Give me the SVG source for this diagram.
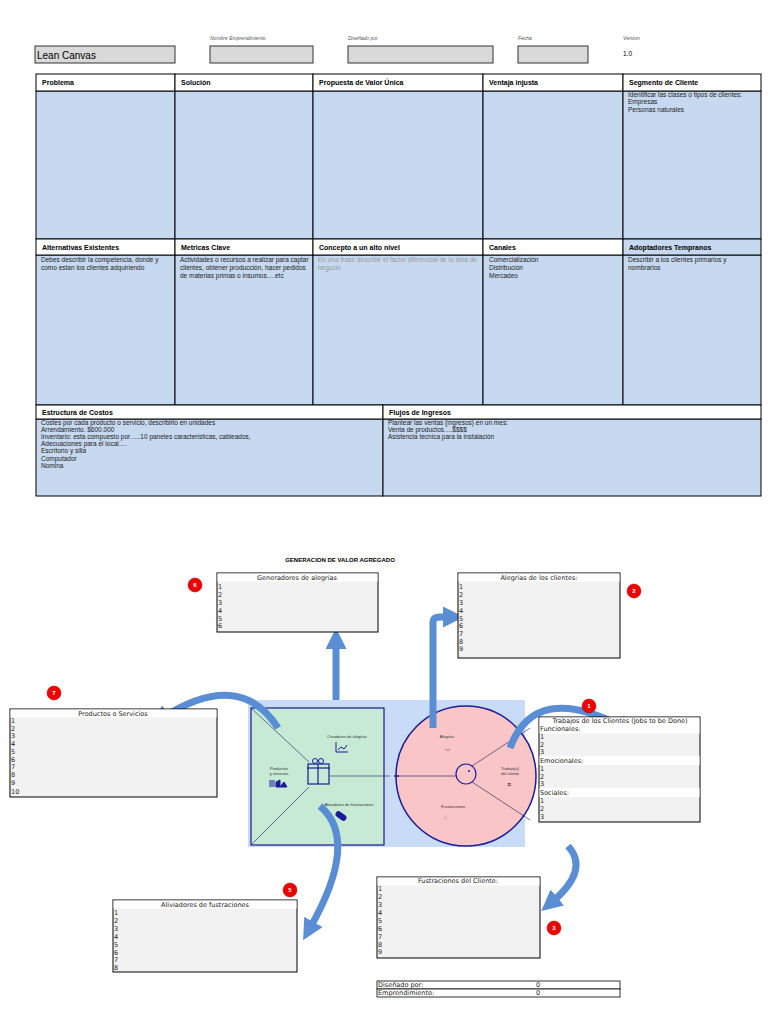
<svg xmlns="http://www.w3.org/2000/svg" width="768" height="1024" viewBox="0 0 768 1024">
<style>
text{font-family:"Liberation Sans",Arial,sans-serif;fill:#000}
.sm{font-size:5px;font-style:italic;fill:#555}
.hd{font-size:7px;font-weight:bold}
.bd{font-size:6.5px;fill:#222}
.cell{fill:#c6d9f0;stroke:#000;stroke-width:1}
.hcell{fill:#fff;stroke:#000;stroke-width:1}
.ibox{fill:#d9d9d9;stroke:#333;stroke-width:1}
.lst{fill:#f2f2f2;stroke:#000;stroke-width:1}
.ls{font-family:"DejaVu Sans",sans-serif;font-size:6.5px;fill:#222}
.bad{fill:#e00;stroke:#a00;stroke-width:.5}
.bt{font-size:6px;fill:#fff;font-weight:bold}
.arr{fill:none;stroke:#5a8ed4;stroke-width:7}
.ic{font-size:4px;fill:#333}
</style>
<defs>
<marker id="ah" markerWidth="3" markerHeight="3" refX="1" refY="1.5" orient="auto"><path d="M0,0 L3,1.5 L0,3 z" fill="#5a8ed4"/></marker>
</defs>
<g id="header">
<text class="sm" x="210" y="40">Nombre Emprendimiento</text>
<text class="sm" x="348" y="40">Diseñado por</text>
<text class="sm" x="518" y="40">Fecha</text>
<text class="sm" x="623" y="40">Version</text>
<rect class="ibox" x="35" y="46" width="140" height="17"/>
<text x="37" y="59" font-size="10">Lean Canvas</text>
<rect class="ibox" x="210" y="46" width="103" height="17"/>
<rect class="ibox" x="348" y="46" width="145" height="17"/>
<rect class="ibox" x="518" y="46" width="70" height="17"/>
<text x="623" y="56" font-size="6.5" fill="#444">1.0</text>
</g>
<g id="canvas">
<rect class="cell" x="36" y="91" width="139" height="148"/>
<rect class="cell" x="175" y="91" width="138" height="148"/>
<rect class="cell" x="313" y="91" width="170" height="148"/>
<rect class="cell" x="483" y="91" width="140" height="148"/>
<rect class="cell" x="623" y="91" width="138" height="148"/>
<rect class="hcell" x="36" y="74" width="139" height="17"/>
<rect class="hcell" x="175" y="74" width="138" height="17"/>
<rect class="hcell" x="313" y="74" width="170" height="17"/>
<rect class="hcell" x="483" y="74" width="140" height="17"/>
<rect class="hcell" x="623" y="74" width="138" height="17"/>
<text class="hd" x="42" y="85">Problema</text>
<text class="hd" x="181" y="85">Solución</text>
<text class="hd" x="319" y="85">Propuesta de Valor Única</text>
<text class="hd" x="489" y="85">Ventaja injusta</text>
<text class="hd" x="629" y="85">Segmento de Cliente</text>
<text class="bd" x="628" y="97">Identificar las clases o tipos de clientes:</text>
<text class="bd" x="628" y="104">Empresas</text>
<text class="bd" x="628" y="112">Personas naturales</text>
<rect class="cell" x="36" y="255" width="139" height="150"/>
<rect class="cell" x="175" y="255" width="138" height="150"/>
<rect class="cell" x="313" y="255" width="170" height="150"/>
<rect class="cell" x="483" y="255" width="140" height="150"/>
<rect class="cell" x="623" y="255" width="138" height="150"/>
<rect class="hcell" x="36" y="239" width="139" height="16"/>
<rect class="hcell" x="175" y="239" width="138" height="16"/>
<rect class="hcell" x="313" y="239" width="170" height="16"/>
<rect class="hcell" x="483" y="239" width="140" height="16"/>
<rect class="cell" x="623" y="239" width="138" height="16"/>
<text class="hd" x="42" y="250">Alternativas Existentes</text>
<text class="hd" x="181" y="250">Metricas Clave</text>
<text class="hd" x="319" y="250">Concepto a un alto nivel</text>
<text class="hd" x="489" y="250">Canales</text>
<text class="hd" x="629" y="250">Adoptadores Tempranos</text>
<text class="bd" x="41" y="262">Debes describir la competencia, donde y</text>
<text class="bd" x="41" y="270">como estan los clientes adquiriendo</text>
<text class="bd" x="180" y="262">Actividades o recursos a realizar para captar</text>
<text class="bd" x="180" y="270">clientes, obtener producción, hacer pedidos</text>
<text class="bd" x="180" y="278">de materias primas o insumos….etc</text>
<text class="bd" x="318" y="262" style="fill:#999">En una frase describir el factor diferencial de tu idea de</text>
<text class="bd" x="318" y="270" style="fill:#999">negocio</text>
<text class="bd" x="489" y="262">Comercialización</text>
<text class="bd" x="489" y="270">Distribución</text>
<text class="bd" x="489" y="278">Mercadeo</text>
<text class="bd" x="628" y="262">Describir a los clientes primarios y</text>
<text class="bd" x="628" y="270">nombrarlos</text>
<rect class="cell" x="36" y="419" width="347" height="77"/>
<rect class="cell" x="383" y="419" width="378" height="77"/>
<rect class="hcell" x="36" y="405" width="347" height="14"/>
<rect class="hcell" x="383" y="405" width="378" height="14"/>
<text class="hd" x="42" y="415">Estructura de Costos</text>
<text class="hd" x="389" y="415">Flujos de Ingresos</text>
<text class="bd" x="41" y="425">Costes por cada producto o servicio, describirlo en unidades</text>
<text class="bd" x="41" y="432">Arrendamiento. $600.000</text>
<text class="bd" x="41" y="439">Inventario: esta compuesto por…..10 paneles caracteristicas, cableados,</text>
<text class="bd" x="41" y="446">Adecuaciones para el local….</text>
<text class="bd" x="41" y="453">Escritorio y silla</text>
<text class="bd" x="41" y="461">Computador</text>
<text class="bd" x="41" y="468">Nomina</text>
<text class="bd" x="388" y="425">Plantear las ventas (ingresos) en un mes:</text>
<text class="bd" x="388" y="432">Venta de productos….$$$$</text>
<text class="bd" x="388" y="439">Asistencia tecnica para la instalación</text>
</g>
<text x="340" y="562" font-size="6" font-weight="bold" text-anchor="middle">GENERACION DE VALOR AGREGADO</text>
<g id="vpc">
<rect x="248" y="700" width="277" height="147" fill="#c9dcf7"/>
<rect x="251" y="708" width="133" height="137" fill="#c6ead4" stroke="#1a1a8a" stroke-width="1.2"/>
<circle cx="466" cy="776" r="70" fill="#f9c5c7" stroke="#1a1a9a" stroke-width="1.5"/>
<g stroke="#1a1a5a" stroke-width=".6">
<line x1="251" y1="708" x2="309" y2="762"/>
<line x1="251" y1="845" x2="309" y2="787"/>
<line x1="330" y1="776" x2="390" y2="776"/>
<line x1="396" y1="776" x2="456" y2="776"/>
<line x1="472" y1="766" x2="530" y2="728"/>
<line x1="472" y1="782" x2="530" y2="820"/>
</g>
<circle cx="395" cy="776" r="1" fill="#1a1a8a"/><circle cx="398" cy="776" r="1" fill="#1a1a8a"/>
<circle cx="466" cy="774" r="10" fill="none" stroke="#1a1a9a" stroke-width="1.2"/>
<circle cx="469" cy="771" r="1" fill="#1a1a9a"/>
<rect x="308" y="764" width="21" height="20" fill="none" stroke="#1a1a9a" stroke-width="1.2"/>
<line x1="307" y1="768" x2="330" y2="768" stroke="#1a1a9a" stroke-width="1.2"/>
<line x1="318" y1="764" x2="318" y2="784" stroke="#1a1a9a" stroke-width="1.2"/>
<circle cx="315" cy="761" r="2.5" fill="none" stroke="#1a1a9a"/><circle cx="321" cy="761" r="2.5" fill="none" stroke="#1a1a9a"/>
<text class="ic" x="347" y="738" text-anchor="middle">Creadores de alegrías</text>
<path d="M336,742 v10 h12 M338,750 l3,-3 3,2 3,-4" fill="none" stroke="#1a1a9a"/>
<text class="ic" x="279" y="770" text-anchor="middle">Productos</text>
<text class="ic" x="279" y="775" text-anchor="middle">y servicios</text>
<path d="M270,780 v7 M272,780 v7 M274,780 v7 M276,782 l4,-2 v7 h-4z M280,787 h7 l-3,-5 z" stroke="#1a1a9a" fill="#1a1a9a" stroke-width="1"/>
<text class="ic" x="349" y="806" text-anchor="middle">Aliviadores de frustraciones</text>
<rect x="335" y="813" width="12" height="6" rx="3" transform="rotate(35 341 816)" fill="#1a1a9a"/>
<text class="ic" x="447" y="738" text-anchor="middle">Alegrías</text>
<text x="447" y="750" font-size="6" fill="#1a1a9a" text-anchor="middle">◡</text>
<text class="ic" x="510" y="770" text-anchor="middle">Trabajo(s)</text>
<text class="ic" x="510" y="775" text-anchor="middle">del cliente</text>
<text x="509" y="787" font-size="7" fill="#1a1a9a" text-anchor="middle">≡</text>
<text class="ic" x="453" y="808" text-anchor="middle">Frustraciones</text>
<text x="445" y="820" font-size="6" fill="#1a1a9a" text-anchor="middle">⁖</text>
</g>
<g id="connectors">
<path class="arr" d="M336,700 V642" marker-end="url(#ah)"/>
<path class="arr" d="M433,728 V622 Q433,617 440,617 H450" marker-end="url(#ah)"/>
<path class="arr" d="M278,728 Q240,668 162,718" marker-end="url(#ah)"/>
<path class="arr" d="M510,748 Q535,680 625,728" marker-end="url(#ah)"/>
<path class="arr" d="M320,806 Q360,840 310,928" marker-end="url(#ah)"/>
<path class="arr" d="M568,846 Q590,870 552,902" marker-end="url(#ah)"/>
</g>
<g id="gen">
<rect class="lst" x="217" y="573" width="161" height="59"/>
<rect x="217.5" y="573.5" width="160" height="8" fill="#fff"/>
<text class="ls" x="297" y="580" text-anchor="middle">Generadores de alegrias</text>
<text class="ls" x="218" y="589">1</text><text class="ls" x="218" y="597">2</text><text class="ls" x="218" y="605">3</text><text class="ls" x="218" y="613">4</text><text class="ls" x="218" y="621">5</text><text class="ls" x="218" y="628">6</text>
</g>
<g id="ale">
<rect class="lst" x="458" y="573" width="162" height="85"/>
<rect x="458.5" y="573.5" width="161" height="8" fill="#fff"/>
<text class="ls" x="539" y="580" text-anchor="middle">Alegrias de los clientes:</text>
<text class="ls" x="459" y="589">1</text><text class="ls" x="459" y="597">2</text><text class="ls" x="459" y="605">3</text><text class="ls" x="459" y="613">4</text><text class="ls" x="459" y="621">5</text><text class="ls" x="459" y="628">6</text><text class="ls" x="459" y="636">7</text><text class="ls" x="459" y="644">8</text><text class="ls" x="459" y="651">9</text>
</g>
<g id="prod">
<rect class="lst" x="10" y="709" width="207" height="88"/>
<rect x="10.5" y="709.5" width="206" height="8" fill="#fff"/>
<text class="ls" x="113" y="716" text-anchor="middle">Productos o Servicios</text>
<text class="ls" x="11" y="723">1</text><text class="ls" x="11" y="731">2</text><text class="ls" x="11" y="738">3</text><text class="ls" x="11" y="746">4</text><text class="ls" x="11" y="754">5</text><text class="ls" x="11" y="762">6</text><text class="ls" x="11" y="769">7</text><text class="ls" x="11" y="777">8</text><text class="ls" x="11" y="785">9</text><text class="ls" x="11" y="794">10</text>
</g>
<g id="trab">
<rect class="lst" x="539" y="717" width="161" height="105"/>
<rect x="539.5" y="717.5" width="160" height="16" fill="#fff"/>
<rect x="539.5" y="756" width="160" height="9" fill="#fff"/>
<rect x="539.5" y="788" width="160" height="9" fill="#fff"/>
<text class="ls" x="620" y="723" text-anchor="middle">Trabajos de los Clientes (Jobs to be Done)</text>
<text class="ls" x="540" y="731">Funcionales:</text>
<text class="ls" x="540" y="739">1</text><text class="ls" x="540" y="747">2</text><text class="ls" x="540" y="754">3</text>
<text class="ls" x="540" y="763">Emocionales:</text>
<text class="ls" x="540" y="771">1</text><text class="ls" x="540" y="779">2</text><text class="ls" x="540" y="786">3</text>
<text class="ls" x="540" y="795">Sociales:</text>
<text class="ls" x="540" y="803">1</text><text class="ls" x="540" y="811">2</text><text class="ls" x="540" y="819">3</text>
</g>
<g id="fus">
<rect class="lst" x="377" y="877" width="163" height="81"/>
<rect x="377.5" y="877.5" width="162" height="8" fill="#fff"/>
<text class="ls" x="458" y="883" text-anchor="middle">Fustraciones del Cliente:</text>
<text class="ls" x="378" y="891">1</text><text class="ls" x="378" y="899">2</text><text class="ls" x="378" y="907">3</text><text class="ls" x="378" y="915">4</text><text class="ls" x="378" y="923">5</text><text class="ls" x="378" y="931">6</text><text class="ls" x="378" y="939">7</text><text class="ls" x="378" y="947">8</text><text class="ls" x="378" y="954">9</text>
</g>
<g id="ali">
<rect class="lst" x="113" y="900" width="184" height="72"/>
<rect x="113.5" y="900.5" width="183" height="8" fill="#fff"/>
<text class="ls" x="205" y="907" text-anchor="middle">Aliviadores de fustraciones</text>
<text class="ls" x="114" y="915">1</text><text class="ls" x="114" y="923">2</text><text class="ls" x="114" y="931">3</text><text class="ls" x="114" y="939">4</text><text class="ls" x="114" y="947">5</text><text class="ls" x="114" y="955">6</text><text class="ls" x="114" y="962">7</text><text class="ls" x="114" y="970">8</text>
</g>
<g id="info">
<rect x="377" y="981" width="243" height="8" fill="#fff" stroke="#000" stroke-width=".8"/>
<rect x="377" y="989" width="243" height="8" fill="#fff" stroke="#000" stroke-width=".8"/>
<text class="ls" x="378" y="987">Diseñado por:</text><text class="ls" x="536" y="987">0</text>
<text class="ls" x="378" y="995">Emprendimiento:</text><text class="ls" x="536" y="995">0</text>
</g>
<g id="badges">
<circle class="bad" cx="195" cy="585" r="7"/><text class="bt" x="195" y="587" text-anchor="middle">6</text>
<circle class="bad" cx="634" cy="591" r="7"/><text class="bt" x="634" y="593" text-anchor="middle">2</text>
<circle class="bad" cx="54" cy="693" r="7"/><text class="bt" x="54" y="695" text-anchor="middle">7</text>
<circle class="bad" cx="589" cy="706" r="7"/><text class="bt" x="589" y="708" text-anchor="middle">1</text>
<circle class="bad" cx="290" cy="890" r="7"/><text class="bt" x="290" y="892" text-anchor="middle">5</text>
<circle class="bad" cx="554" cy="928" r="7"/><text class="bt" x="554" y="930" text-anchor="middle">3</text>
</g>
</svg>
